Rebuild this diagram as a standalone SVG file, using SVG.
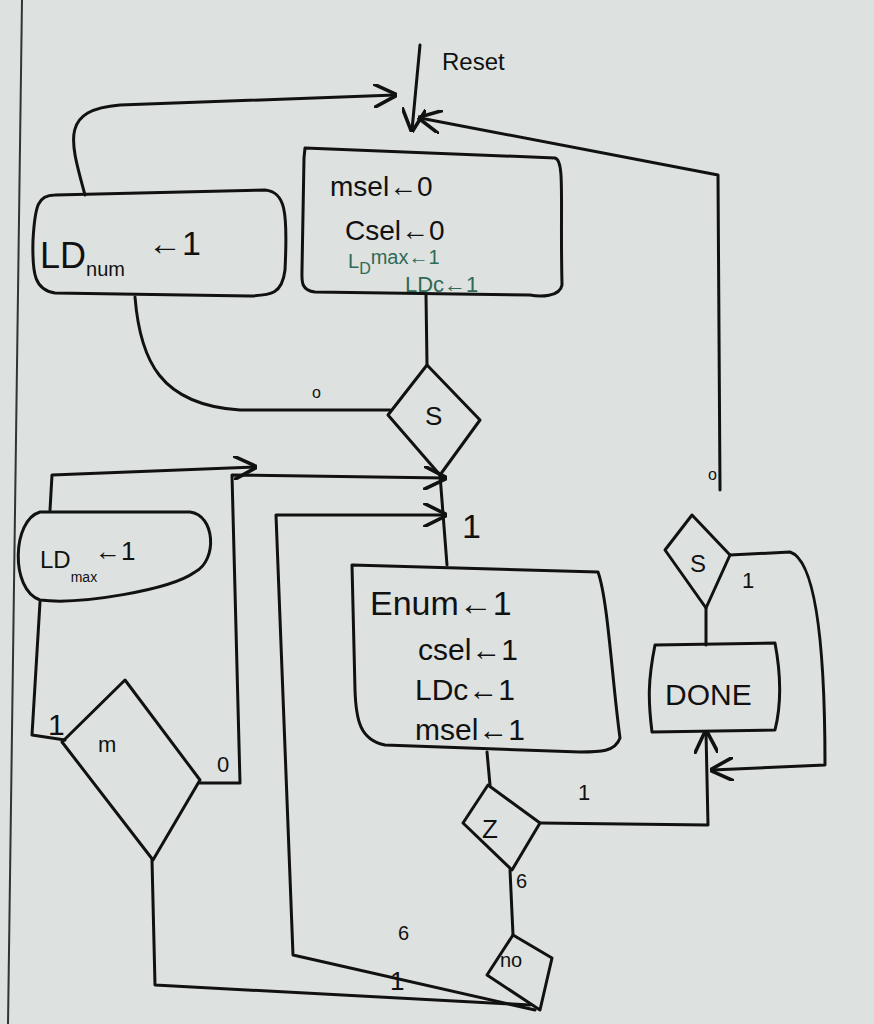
<svg xmlns="http://www.w3.org/2000/svg" width="874" height="1024" viewBox="0 0 874 1024">
<defs>
<marker id="ah" viewBox="0 0 10 10" refX="9" refY="5" markerWidth="8" markerHeight="8" orient="auto-start-reverse"><path d="M0,0 L10,5 L0,10" fill="none" stroke="#111" stroke-width="1.5"/></marker>
<style>
.s{fill:none;stroke:#111;stroke-width:3;stroke-linecap:round;stroke-linejoin:round}
.t{font-family:"Liberation Sans",sans-serif;fill:#111}
.g{font-family:"Liberation Sans",sans-serif;fill:#2f6a55}
</style>
</defs>
<rect width="874" height="1024" fill="#dde1e0"/>
<line x1="22" y1="0" x2="8" y2="1024" stroke="#333" stroke-width="2"/>
<g id="connectors" class="s">
<path d="M420,45 L412,130" marker-end="url(#ah)"/>
<path d="M85,195 C70,140 60,110 120,105 L395,95" marker-end="url(#ah)"/>
<path d="M720,490 L718,175 L420,118" marker-end="url(#ah)"/>
<path d="M426,295 L427,365"/>
<path d="M135,297 C140,360 160,405 240,410 L390,410"/>
<path d="M440,475 L447,565"/>
<path d="M50,510 L52,475 L255,467" marker-end="url(#ah)"/>
<path d="M200,783 L240,783 L232,475 L445,478" marker-end="url(#ah)"/>
<path d="M535,1010 L293,955 L276,515 L445,515" marker-end="url(#ah)"/>
<path d="M40,602 L32,735 L65,740"/>
<path d="M152,860 L155,985 L530,1005"/>
<path d="M487,752 L490,785"/>
<path d="M510,870 L513,935"/>
<path d="M540,823 L708,825 L706,732" marker-end="url(#ah)"/>
<path d="M730,555 L790,552 C815,560 825,640 825,765 L712,770" marker-end="url(#ah)"/>
<path d="M706,608 L706,645"/>
</g>
<g id="reset"><text class="t" x="442" y="70" font-size="24">Reset</text></g>
<g id="idle">
<path class="s" d="M305,148 L555,158 C565,160 560,200 562,285 C560,297 540,297 530,295 L315,292 C300,290 302,280 302,270 L304,158 Z"/>
<text class="t" x="330" y="196" font-size="28">msel←0</text>
<text class="t" x="345" y="240" font-size="28">Csel←0</text>
<text class="g" x="348" y="268" font-size="20">L<tspan font-size="16" dy="6">D</tspan><tspan dy="-10">max←1</tspan></text>
<text class="g" x="405" y="292" font-size="22">LDc←1</text>
</g>
<g id="ldnum">
<path class="s" d="M55,195 L265,190 C285,192 288,210 285,270 C282,295 270,295 250,296 L55,293 C35,290 32,275 33,240 C35,205 38,195 55,195 Z"/>
<text class="t" x="40" y="268" font-size="36">LD<tspan font-size="20" dy="8">num</tspan></text>
<text class="t" x="148" y="255" font-size="34">←1</text>
</g>
<g id="s1">
<path class="s" d="M427,365 L480,420 L440,475 L388,415 Z"/>
<text class="t" x="425" y="425" font-size="26">S</text>
<text class="t" x="312" y="398" font-size="16">o</text>
<text class="t" x="462" y="538" font-size="34">1</text>
</g>
<g id="ldmax">
<path class="s" d="M40,512 L190,512 C215,515 218,560 195,572 C170,590 80,605 40,600 C10,590 12,520 40,512 Z"/>
<text class="t" x="40" y="568" font-size="24">LD<tspan font-size="14" dy="14">max</tspan></text>
<text class="t" x="95" y="560" font-size="26">←1</text>
</g>
<g id="m">
<path class="s" d="M125,680 L200,780 L153,860 L62,742 Z"/>
<text class="t" x="98" y="752" font-size="22">m</text>
<text class="t" x="48" y="735" font-size="30">1</text>
<text class="t" x="217" y="772" font-size="22">0</text>
</g>
<g id="compute">
<path class="s" d="M352,565 L598,572 C608,600 612,680 620,738 C615,752 600,752 580,752 L385,745 C360,740 356,720 355,690 Z"/>
<text class="t" x="370" y="615" font-size="34">Enum←1</text>
<text class="t" x="418" y="660" font-size="30">csel←1</text>
<text class="t" x="415" y="700" font-size="30">LDc←1</text>
<text class="t" x="415" y="740" font-size="30">msel←1</text>
</g>
<g id="z">
<path class="s" d="M488,785 L540,823 L512,870 L463,823 Z"/>
<text class="t" x="482" y="838" font-size="26">Z</text>
<text class="t" x="578" y="800" font-size="22">1</text>
<text class="t" x="516" y="888" font-size="20">6</text>
</g>
<g id="no">
<path class="s" d="M513,935 L552,958 L540,1010 L487,975 Z"/>
<text class="t" x="500" y="967" font-size="20">no</text>
<text class="t" x="398" y="940" font-size="20">6</text>
<text class="t" x="390" y="990" font-size="26">1</text>
</g>
<g id="s2">
<path class="s" d="M692,515 L730,555 L706,608 L665,550 Z"/>
<text class="t" x="690" y="572" font-size="24">S</text>
<text class="t" x="742" y="588" font-size="22">1</text>
<text class="t" x="708" y="480" font-size="16">o</text>
</g>
<g id="done">
<path class="s" d="M655,645 L775,643 C782,680 780,710 775,730 L652,732 C648,700 648,680 655,645 Z"/>
<text class="t" x="665" y="705" font-size="30">DONE</text>
</g>
</svg>
